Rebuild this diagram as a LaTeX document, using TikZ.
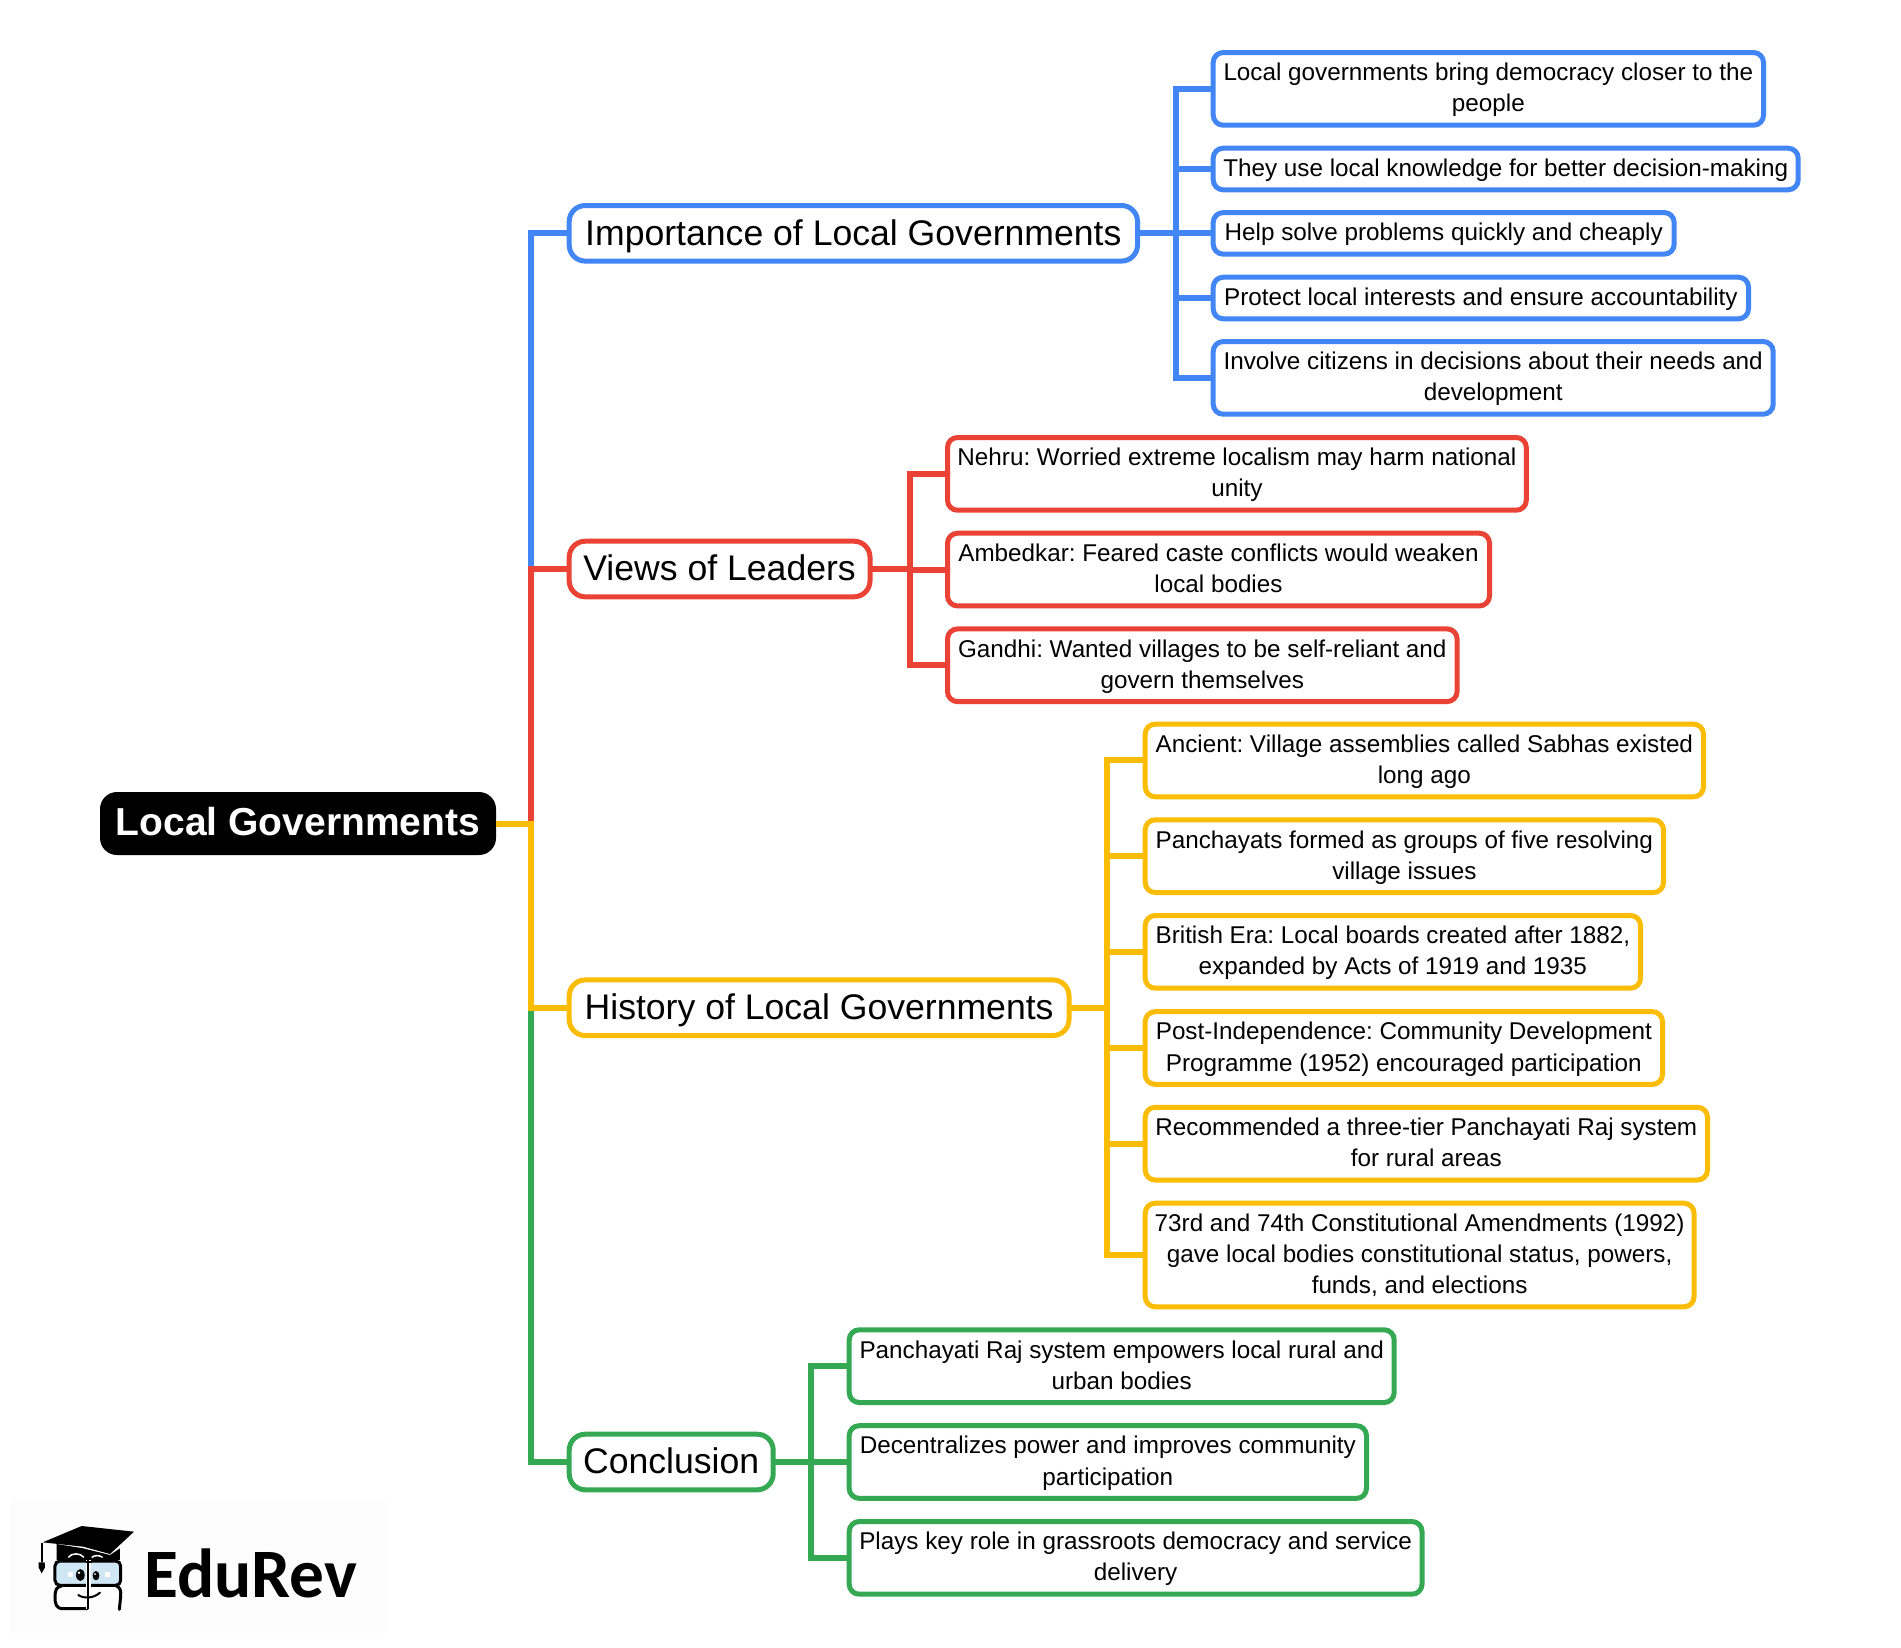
\documentclass[tikz,border=0pt]{standalone}
\usepackage{fontspec}
\setmainfont{Liberation Sans}
\newfontfamily\logofont{Carlito}
\frenchspacing
\definecolor{gblue}{HTML}{4285F4}
\definecolor{gred}{HTML}{EA4335}
\definecolor{gyellow}{HTML}{FBBC04}
\definecolor{ggreen}{HTML}{34A853}
\definecolor{glass}{HTML}{CFE6F5}
\definecolor{logobg}{HTML}{FDFDFD}
\tikzset{
  leaf/.style={rectangle,rounded corners=10pt,line width=5pt,fill=white,inner sep=0pt,outer sep=0pt,
    align=center,text=black,font=\fontsize{24.25}{31.2}\selectfont,text height=19pt,text depth=4pt,minimum height=41.6pt},
  leaftwo/.style={leaf,text height=50.2pt,minimum height=72.7pt},
  leafthree/.style={leaf,text height=81.4pt,minimum height=103.6pt},
  branch/.style={rectangle,rounded corners=16pt,line width=5pt,fill=white,inner sep=0pt,outer sep=0pt,
    align=center,text=black,font=\fontsize{35.6}{42}\selectfont,text height=28pt,text depth=4.6pt,minimum height=55.6pt},
  rootbox/.style={rectangle,rounded corners=17pt,fill=black,inner sep=0pt,outer sep=0pt,
    text=white,font=\fontsize{39}{46}\selectfont\bfseries,text height=28pt,text depth=5pt,minimum width=396pt,minimum height=63pt},
  conn/.style={line width=6pt,line join=miter},
  logotext/.style={inner sep=0pt,outer sep=0pt,anchor=base west,text=black,font=\fontsize{69.4}{72}\selectfont\logofont\bfseries}
}
\begin{document}
\begin{tikzpicture}[x=1pt,y=-1pt]
\useasboundingbox (0,0) rectangle (1901,1647);
\fill[white] (0,0) rectangle (1901,1647);
% logo backdrop
\fill[logobg] (10,1500) rectangle (387,1633);

% root
\node[rootbox] (root) at (298,823.5) {Local Governments};

% main branches
\node[branch,draw=gblue,minimum width=568.3pt] (m1) at (853.35,233.3) {Importance of Local Governments};
\node[branch,draw=gred,minimum width=300.8pt] (m2) at (719.6,569) {Views of Leaders};
\node[branch,draw=gyellow,minimum width=499.8pt] (m3) at (819.1,1007.7) {History of Local Governments};
\node[branch,draw=ggreen,minimum width=204pt] (m4) at (671.2,1462) {Conclusion};

% blue leaves
\node[leaftwo,draw=gblue,minimum width=550.3pt] (b1) at (1488.35,88.85) {Local governments bring democracy closer to the\\people};
\node[leaf,draw=gblue,minimum width=585pt] (b2) at (1505.7,169) {They use local knowledge for better decision-making};
\node[leaf,draw=gblue,minimum width=461pt] (b3) at (1443.7,233.35) {Help solve problems quickly and cheaply};
\node[leaf,draw=gblue,minimum width=535.3pt] (b4) at (1480.85,298) {Protect local interests and ensure accountability};
\node[leaftwo,draw=gblue,minimum width=560pt] (b5) at (1493.2,377.85) {Involve citizens in decisions about their needs and\\development};

% red leaves
\node[leaftwo,draw=gred,minimum width=578.8pt] (r1) at (1236.9,473.85) {Nehru: Worried extreme localism may harm national\\unity};
\node[leaftwo,draw=gred,minimum width=542pt] (r2) at (1218.5,569.55) {Ambedkar: Feared caste conflicts would weaken\\local bodies};
\node[leaftwo,draw=gred,minimum width=509.6pt] (r3) at (1202.3,665.25) {Gandhi: Wanted villages to be self-reliant and\\govern themselves};

% yellow leaves
\node[leaftwo,draw=gyellow,minimum width=558.3pt] (y1) at (1424.35,760.45) {Ancient: Village assemblies called Sabhas existed\\long ago};
\node[leaftwo,draw=gyellow,minimum width=518.3pt] (y2) at (1404.35,856.15) {Panchayats formed as groups of five resolving\\village issues};
\node[leaftwo,draw=gyellow,minimum width=495.3pt] (y3) at (1392.85,951.85) {British Era: Local boards created after 1882,\\expanded by Acts of 1919 and 1935};
\node[leaftwo,draw=gyellow,minimum width=517.3pt] (y4) at (1403.85,1048) {Post-Independence: Community Development\\Programme (1952) encouraged participation};
\node[leaftwo,draw=gyellow,minimum width=562.3pt] (y5) at (1426.35,1143.65) {Recommended a three-tier Panchayati Raj system\\for rural areas};
\node[leafthree,draw=gyellow,minimum width=548.8pt] (y6) at (1419.6,1255) {73rd and 74th Constitutional Amendments (1992)\\gave local bodies constitutional status, powers,\\funds, and elections};

% green leaves
\node[leaftwo,draw=ggreen,minimum width=545pt] (g1) at (1121.7,1366.15) {Panchayati Raj system empowers local rural and\\urban bodies};
\node[leaftwo,draw=ggreen,minimum width=517.3pt] (g2) at (1107.85,1462) {Decentralizes power and improves community\\participation};
\node[leaftwo,draw=ggreen,minimum width=572.8pt] (g3) at (1135.6,1557.85) {Plays key role in grassroots democracy and service\\delivery};

% junction points
\coordinate (tm1) at (531,569);
\coordinate (tm2) at (531,823.5);
\coordinate (tm3) at (531,1007.7);
\coordinate (tb) at (1175.7,233.3);
\coordinate (tr) at (909.7,569);
\coordinate (ty) at (1107.3,1007.7);
\coordinate (tg) at (811.3,1462);

% main trunk
\draw[conn,draw=gblue] (tm1) |- (m1.west);
\draw[conn,draw=gred] (tm2) |- (m2.west);
\draw[conn,draw=ggreen] (tm3) |- (m4.west);
\draw[conn,draw=gyellow] (root.east) -- (tm2) |- (m3.west);

% blue connectors
\draw[conn,draw=gblue] (m1.east) -- (tb);
\draw[conn,draw=gblue] (tb) |- (b1.west);
\draw[conn,draw=gblue] (tb) |- (b2.west);
\draw[conn,draw=gblue] (tb) |- (b3.west);
\draw[conn,draw=gblue] (tb) |- (b4.west);
\draw[conn,draw=gblue] (tb) |- (b5.west);

% red connectors
\draw[conn,draw=gred] (m2.east) -- (tr);
\draw[conn,draw=gred] (tr) |- (r1.west);
\draw[conn,draw=gred] (tr) |- (r2.west);
\draw[conn,draw=gred] (tr) |- (r3.west);

% yellow connectors
\draw[conn,draw=gyellow] (m3.east) -- (ty);
\draw[conn,draw=gyellow] (ty) |- (y1.west);
\draw[conn,draw=gyellow] (ty) |- (y2.west);
\draw[conn,draw=gyellow] (ty) |- (y3.west);
\draw[conn,draw=gyellow] (ty) |- (y4.west);
\draw[conn,draw=gyellow] (ty) |- (y5.west);
\draw[conn,draw=gyellow] (ty) |- (y6.west);

% green connectors
\draw[conn,draw=ggreen] (m4.east) -- (tg);
\draw[conn,draw=ggreen] (tg) |- (g1.west);
\draw[conn,draw=ggreen] (tg) |- (g2.west);
\draw[conn,draw=ggreen] (tg) |- (g3.west);

% logo text
\node[logotext] (logo) at (144.5,1597.3) {EduRev};

% logo mascot, in units of 1/3 px
\begin{scope}[shift={(0,1480)},x=0.33333pt,y=-0.33333pt]
  % face outline
  \draw[line width=3pt,line cap=round,black] (262,386) -- (190,386) .. controls (168,386) and (165,372) .. (165,350) .. controls (165,330) and (170,320) .. (185,318);
  \draw[line width=3pt,line cap=round,black] (358,388) -- (362,350) .. controls (364,330) and (360,320) .. (345,316);
  % glasses
  \draw[line width=3pt,black,fill=glass,rounded corners=5pt] (165,243) rectangle (362,316);
  % cap base
  \fill[black] (170,192) -- (250,205) -- (330,225) -- (360,205) -- (360,240) -- (170,240) -- cycle;
  % eyebrows
  \draw[white,line width=1.5pt] (205,232) .. controls (215,218) and (240,218) .. (252,232);
  \draw[white,line width=1.5pt] (275,232) .. controls (285,225) and (298,225) .. (308,232);
  % board
  \fill[black] (128,187) -- (245,138) -- (402,155) -- (330,222) -- (250,200) -- cycle;
  % tassel
  \draw[line width=2pt,black] (125,188) -- (125,245);
  \fill[black] (116,247) -- (134,247) -- (135,262) -- (125,280) -- (116,262) -- cycle;
  % centre strip
  \fill[white] (258,240) rectangle (273,388);
  \draw[line width=2pt,black] (265.5,240) -- (265.5,388);
  \draw[line width=2pt,black] (258,245) -- (275,245);
  % eyes
  \fill[black] (241,285) ellipse [x radius=13,y radius=18];
  \fill[white] (237,278) circle [radius=4];
  \fill[black] (288,287) ellipse [x radius=10,y radius=14];
  \fill[white] (285,282) circle [radius=3];
  % window marks
  \fill[white] (204,276) rectangle (218,290);
  \fill[white] (315,276) rectangle (329,290);
  % smile
  \draw[line width=2pt,line cap=round,black] (235,345) .. controls (250,356) and (280,356) .. (300,338);
\end{scope}
\end{tikzpicture}
\end{document}
